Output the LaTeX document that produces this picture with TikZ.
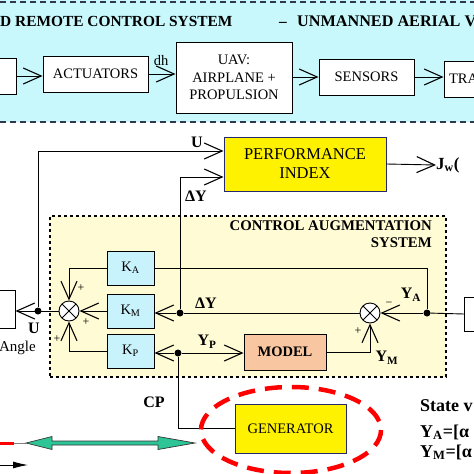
\documentclass[tikz,border=0pt]{standalone}
\usepackage{fontspec}
\setmainfont{Liberation Serif}
\usetikzlibrary{arrows.meta, positioning, calc}

\tikzset{
  blk/.style={draw, line width=0.9pt, fill=white, inner sep=0pt, align=center, font=\fontsize{14.5}{17.5}\selectfont},
  gain/.style={blk, fill=gaincyan, minimum width=47pt, minimum height=34pt},
  ylw/.style={blk, fill=yellow, draw=navyline},
  sumj/.style={circle, draw, line width=0.9pt, fill=white, minimum size=20pt, inner sep=0pt,
    path picture={\draw[line width=0.9pt] (path picture bounding box.north west) -- (path picture bounding box.south east)
      (path picture bounding box.north east) -- (path picture bounding box.south west);}},
  dotn/.style={circle, fill=black, minimum size=7pt, inner sep=0pt},
  ln/.style={line width=0.9pt},
  arr/.style={ln, -{Straight Barb[length=18pt, width=16pt, line width=1.1pt]}},
  lbl/.style={inner sep=0pt, font=\bfseries\fontsize{16}{18}\selectfont},
  sgn/.style={inner sep=0pt, font=\fontsize{12}{14}\selectfont},
}

\begin{document}
\begin{tikzpicture}[x=1pt, y=-1pt]
    \definecolor{topcyan}{RGB}{200, 248, 252}
    \definecolor{casyellow}{RGB}{255, 251, 212}
    \definecolor{gaincyan}{RGB}{200, 242, 252}
    \definecolor{modelorange}{RGB}{248, 198, 160}
    \definecolor{navyline}{RGB}{40, 40, 110}
    \definecolor{dashgray}{RGB}{50, 55, 80}
    \definecolor{arrowgreen}{RGB}{45, 196, 150}
    \useasboundingbox (0,0) rectangle (474,474);
    \clip (0,0) rectangle (474,474);

    % upper band
    \fill[topcyan] (0,0) rectangle (474,122);
    \draw[dashgray, line width=1.4pt, dash pattern=on 6pt off 4pt] (0,2) -- (474,2) (0,122) -- (474,122);
    \node[anchor=base west, inner sep=0pt, font=\bfseries\fontsize{15.4}{18}\selectfont] (title) at (0,26)
        {D REMOTE CONTROL SYSTEM};
    \node[anchor=base west, inner sep=0pt, font=\bfseries\fontsize{15.4}{18}\selectfont] (dash) at (279,26) {–};
    \node[anchor=base west, inner sep=0pt, font=\bfseries\fontsize{16.2}{18}\selectfont] (title2) at (297,26)
        {UNMANNED AERIAL V};

    \node[blk, minimum width=46pt, minimum height=36pt] (ctl) at (-7,76) {};
    \node[blk, minimum width=105pt, minimum height=36pt] (act) at (95.5,74) {ACTUATORS};
    \node[blk, minimum width=116pt, minimum height=71pt] (uav) at (234,77.5) {UAV:\\AIRPLANE +\\PROPULSION};
    \node[blk, minimum width=95pt, minimum height=36pt] (sens) at (366.5,77) {SENSORS};
    \node[blk, minimum height=36pt, text width=90pt, align=left, inner xsep=5pt] (trans) at (494,79) {TRA};
    \draw[arr] (ctl.east) -- (ctl.east -| act.west);
    \draw[arr] (act.east) -- (act.east -| uav.west);
    \node[inner sep=0pt, font=\fontsize{14.5}{17}\selectfont] (dh) at (161,61) {dh};
    \draw[arr] (uav.east |- sens.west) -- (sens.west);
    \draw[arr] (sens.east) -- (sens.east -| trans.west);

    % performance index
    \node[ylw, minimum width=162pt, minimum height=54pt, font=\fontsize{16.5}{19}\selectfont] (perf) at (305,164) {PERFORMANCE\\INDEX};
    \node[anchor=west, inner sep=0pt, font=\bfseries\fontsize{17}{19}\selectfont] (jw) at (436,165) {J\textsubscript{w}(};
    \draw[arr] (perf.east) -- (jw.west);

    % control augmentation system
    \node[draw, dashed, line width=1.3pt, fill=casyellow, minimum width=396pt, minimum height=161pt] (cas) at (248,296.5) {};
    \node[anchor=north east, align=right, inner sep=0pt, font=\bfseries\fontsize{14.8}{17}\selectfont] (castitle) at (432,220)
        {CONTROL AUGMENTATION\\SYSTEM};

    \node[gain] (ka) at (130.5,268) {K\textsubscript{A}};
    \node[gain] (km) at (130.5,311) {K\textsubscript{M}};
    \node[gain] (kp) at (130.5,351) {K\textsubscript{P}};
    \node[sumj] (suml) at (69,311) {};
    \node[sumj] (sumr) at (370,313) {};
    \node[blk, fill=modelorange, minimum width=82pt, minimum height=36pt, font=\bfseries\fontsize{14.5}{17}\selectfont] (model) at (285,352) {MODEL};
    \node[dotn] (udot) at (38,311) {};
    \node[dotn] (dydot) at (180,313) {};
    \node[dotn] (yadot) at (427,313) {};
    \node[dotn] (ypdot) at (178,353) {};

    \node[blk, minimum width=55pt, minimum height=38pt] (leftbox) at (-12.5,309) {};
    \node[blk, minimum width=55pt, minimum height=34pt] (outbox) at (492,314) {};

    \coordinate (pu) at (perf.west |- 0,151);
    \coordinate (pdy) at (perf.west |- 0,177);
    \draw[arr] (udot) |- (pu);
    \draw[arr] (dydot) |- (pdy);
    \draw[arr] (suml.west) -- (suml.west -| leftbox.east);
    \draw[arr] (ka.west) -| (suml.north);
    \draw[arr] (km.west) -- (suml.east);
    \draw[arr] (kp.west) -| (suml.south);
    \draw[ln] (yadot) |- (ka.east);
    \draw[ln] (yadot) -- (outbox.west);
    \draw[arr] (yadot) -- (sumr.east);
    \draw[ln] (sumr.west) -- (dydot);
    \draw[arr] (dydot) -- (dydot -| km.east);
    \draw[arr] (ypdot) -- (ypdot -| kp.east);
    \draw[arr] (ypdot) -- (ypdot -| model.west);
    \draw[arr] (model.east) -| (sumr.south);

    \node[lbl] (ulbl) at (197,142) {U};
    \node[lbl] (ulbl2) at (34,328) {U};
    \node[lbl] (dylbl) at (196,196) {ΔY};
    \node[lbl] (dylbl2) at (206,303) {ΔY};
    \node[lbl] (yplbl) at (207,342) {Y\textsubscript{P}};
    \node[lbl] (ymlbl) at (387,358) {Y\textsubscript{M}};
    \node[lbl] (yalbl) at (411,295) {Y\textsubscript{A}};
    \node[anchor=east, inner sep=0pt, font=\fontsize{15}{17}\selectfont] (angle) at (36,348) {Angle};
    \node[sgn] (p1) at (81,288) {+};
    \node[sgn] (p2) at (86,322) {+};
    \node[sgn] (p3) at (57,339) {+};
    \node[sgn] (p4) at (358,331) {+};
    \node[sgn] (m1) at (389,304) {−};

    % generator
    \node[ylw, minimum width=111pt, minimum height=49pt] (gen) at (290.5,428.5) {GENERATOR};
    \draw[ln] (ypdot) |- (gen.west);
    \node[lbl] (cp) at (154,402) {CP};
    \draw[red, line width=4.5pt, dash pattern=on 17pt off 10pt] (291,430) ellipse [x radius=90, y radius=43];

    % bottom left
    \draw[red, line width=3pt] (0,443) -- (14,443);
    \draw[gray, line width=0.8pt] (14,443) -- (26,443);
    \filldraw[fill=arrowgreen, draw=black!80, line width=0.7pt] (26,443) -- (52,436.5) -- (52,441) -- (158,441) -- (158,436.5)
        -- (195,443) -- (158,449.5) -- (158,445) -- (52,445) -- (52,449.5) -- cycle;
    \draw[line width=0.9pt, -{Latex[length=15pt, width=7pt]}] (0,465) -- (28,465);

    % state vector
    \node[anchor=base west, inner sep=0pt, align=left, font=\bfseries\fontsize{18}{22}\selectfont] (state) at (420,411)
        {State v};
    \node[anchor=base west, inner sep=0pt, font=\bfseries\fontsize{18}{22}\selectfont] (ya) at (420,437) {Y\textsubscript{A}=[α};
    \node[anchor=base west, inner sep=0pt, font=\bfseries\fontsize{18}{22}\selectfont] (ym) at (420,457) {Y\textsubscript{M}=[α};
\end{tikzpicture}
\end{document}
